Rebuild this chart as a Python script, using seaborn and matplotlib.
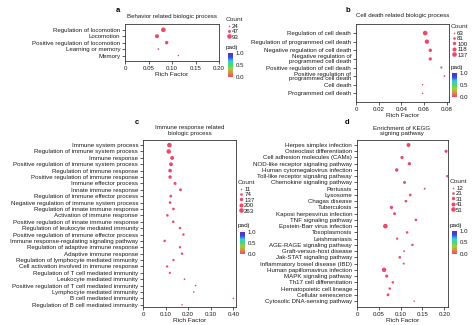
import numpy as np
import pandas as pd
import matplotlib
matplotlib.use("Agg")
import matplotlib.pyplot as plt
import seaborn as sns
from matplotlib.colors import LinearSegmentedColormap, Normalize
from matplotlib.lines import Line2D
import matplotlib.cm as cm

sns.set_theme(style="white")
plt.rcParams['font.family'] = ['Liberation Sans', 'DejaVu Sans']

# ---------------- data ----------------
a_terms = ["Regulation of locomotion", "Locomotion", "Positive regulation of locomotion",
           "Learning or memory", "Memory"]
a_rich = [0.0816, 0.068, 0.0887, 0.071, 0.1135]
a_count = [93, 75, 58, 26, 24]
a_padj = [0.0, 0.0, 0.0, 0.0, 0.0]
a_legend = [24, 47, 93]

b_terms = ["Regulation of cell death", "Regulation of programmed cell death",
           "Negative regulation of cell death", "Negative regulation of\nprogrammed cell death",
           "Positive regulation of cell death", "Positive regulation of\nprogrammed cell death",
           "Cell death", "Programmed cell death"]
b_rich = [0.061, 0.0625, 0.0655, 0.0655, 0.0753, 0.078, 0.0587, 0.0587]
b_count = [137, 128, 100, 95, 72, 66, 63, 63]
b_padj = [0.0, 0.0, 0.0, 0.0, 0.0, 0.0, 0.0, 0.0]
b_legend = [63, 81, 100, 118, 137]

c_terms = ["Immune system process", "Regulation of immune system process", "Immune response",
           "Positive regulation of immune system process", "Regulation of immune response",
           "Positive regulation of immune response", "Immune effector process",
           "Innate immune response", "Regulation of immune effector process",
           "Negative regulation of immune system process", "Regulation of innate immune response",
           "Activation of immune response", "Positive regulation of innate immune response",
           "Regulation of leukocyte mediated immunity", "Positive regulation of immune effector process",
           "Immune response-regulating signaling pathway", "Regulation of adaptive immune response",
           "Adaptive immune response", "Regulation of lymphocyte mediated immunity",
           "Cell activation involved in immune response", "Regulation of T cell mediated immunity",
           "Leukocyte mediated immunity", "Positive regulation of T cell mediated immunity",
           "Lymphocyte mediated immunity", "B cell mediated immunity",
           "Regulation of B cell mediated immunity"]
c_rich = [0.117, 0.114, 0.129, 0.124, 0.12, 0.12, 0.142, 0.166, 0.123, 0.12, 0.135, 0.108,
          0.134, 0.164, 0.179, 0.096, 0.164, 0.173, 0.135, 0.107, 0.119, 0.184, 0.233, 0.225,
          0.40, 0.173]
c_count = [263, 250, 190, 180, 160, 140, 100, 90, 80, 78, 75, 70, 68, 60, 58, 65, 55, 60, 52,
           50, 45, 20, 18, 16, 11, 12]
c_padj = [0.0, 0.0, 0.0, 0.0, 0.0, 0.0, 0.0, 0.0, 0.0, 0.0, 0.0, 0.0, 0.0,
          0.0, 0.0, 0.0, 0.0, 0.0, 0.0, 0.0, 0.0, 0.0, 0.0, 0.0, 0.0, 0.0]
c_legend = [11, 74, 137, 200, 263]

d_terms = ["Herpes simplex infection", "Osteoclast differentiation", "Cell adhesion molecules (CAMs)",
           "NOD-like receptor signaling pathway", "Human cytomegalovirus infection",
           "Toll-like receptor signaling pathway", "Chemokine signaling pathway", "Pertussis",
           "Lysosome", "Chagas disease", "Tuberculosis", "Kaposi herpesvirus infection",
           "TNF signaling pathway", "Epstein-Barr virus infection", "Toxoplasmosis", "Leishmaniasis",
           "AGE-RAGE signaling pathway", "Graft-versus-host disease", "Jak-STAT signaling pathway",
           "Inflammatory bowel disease (IBD)", "Human papillomavirus infection",
           "MAPK signaling pathway", "Th17 cell differentiation", "Hematopoietic cell lineage",
           "Cellular senescence", "Cytosolic DNA-sensing pathway"]
d_rich = [0.118, 0.204, 0.103, 0.12, 0.091, 0.207, 0.109, 0.155, 0.122, 0.112, 0.079, 0.086,
          0.135, 0.065, 0.115, 0.092, 0.127, 0.108, 0.098, 0.107, 0.062, 0.068, 0.082, 0.075,
          0.071, 0.131]
d_count = [40, 28, 28, 30, 32, 20, 25, 15, 22, 22, 30, 25, 22, 51, 20, 18, 20, 14, 22, 16, 48,
           28, 20, 20, 24, 12]
d_padj = [0.0, 0.0, 0.0, 0.0, 0.0, 0.0, 0.0, 0.0, 0.0, 0.0, 0.0, 0.0, 0.0, 0.0, 0.0, 0.0,
          0.0, 0.0, 0.0, 0.0, 0.0, 0.0, 0.0, 0.0, 0.0, 0.0]
d_legend = [12, 21, 31, 41, 51]

# ---------------- figure ----------------
W, H = 474, 325
fig = plt.figure(figsize=(W / 100, H / 100), dpi=100)
FS = 4.45
INK = "#1a1a1a"

def fx(px):
    return px / W

def fy(py):
    return 1 - py / H

cmap = LinearSegmentedColormap.from_list(
    "padj", ["#ea4a6a", "#d98a4a", "#a8cc40", "#44dc6c", "#3cc8dc", "#3048e0", "#6a2ab0"])
SMIN, SMAX = 1.2, 11.0


def size_of(v, lo, hi):
    return SMIN + (v - lo) / (hi - lo) * (SMAX - SMIN)


def panel(terms, rich, count, padj, box, xlim, xticks, xtl, pads, leg_vals,
          title, title_xy, letter, letter_xy, leg_xy, cbar_box, padj_xy):
    l, r, t, b = box
    ax = fig.add_axes([fx(l), fy(b), fx(r - l), (b - t) / H])
    df = pd.DataFrame({"term": terms, "rich": rich, "count": count, "padj": padj})
    df["pos"] = np.arange(len(df))
    lo, hi = leg_vals[0], leg_vals[-1]
    sns.scatterplot(data=df, x="rich", y="pos", hue="padj", palette=cmap,
                    hue_norm=(0, 1), size="count", sizes=(SMIN, SMAX),
                    size_norm=(lo, hi), linewidth=0, legend=False, ax=ax)
    n = len(terms)
    ax.set_ylim(n - 1 + pads[1], -pads[0])
    ax.set_yticks(np.arange(n))
    ax.set_yticklabels(terms, fontsize=FS, color=INK, linespacing=0.85)
    ax.set_xlim(*xlim)
    ax.set_xticks(xticks)
    ax.set_xticklabels(xtl, fontsize=FS, color=INK)
    ax.set_xlabel("Rich Factor", fontsize=FS + 0.2, color=INK, labelpad=1)
    ax.set_ylabel("")
    ax.tick_params(axis="both", length=2, width=0.5, pad=1.5, color=INK,
                   direction="out", bottom=True, left=True)
    for s in ax.spines.values():
        s.set_linewidth(0.6)
        s.set_color("#333333")
    fig.text(fx(title_xy[0]), fy(title_xy[1]), title, fontsize=FS, color=INK,
             ha="center", va="center", linespacing=1.0)
    fig.text(fx(letter_xy[0]), fy(letter_xy[1]), letter, fontsize=5.5, fontweight="bold",
             color="black", ha="center", va="center")
    # size legend
    handles = [Line2D([], [], linestyle="", marker="o",
                      markersize=np.sqrt(size_of(v, lo, hi)),
                      markerfacecolor=cmap(0.0), markeredgewidth=0, label=str(v))
               for v in leg_vals]
    leg = ax.legend(handles=handles, title="Count", loc="upper left",
                    bbox_to_anchor=(fx(leg_xy[0]), fy(leg_xy[1])),
                    bbox_transform=fig.transFigure, frameon=False, fontsize=FS,
                    title_fontsize=FS + 0.2, borderpad=0, borderaxespad=0,
                    handletextpad=0.1, labelspacing=0.02, handlelength=0.9,
                    markerscale=1.0)
    leg._legend_box.align = "left"
    leg._legend_box.sep = 1
    for txt in leg.get_texts():
        txt.set_color(INK)
    # colorbar
    cl, cr, ct, cb = cbar_box
    cax = fig.add_axes([fx(cl), fy(cb), fx(cr - cl), (cb - ct) / H])
    sm = cm.ScalarMappable(norm=Normalize(0, 1), cmap=cmap)
    cbar = fig.colorbar(sm, cax=cax, ticks=[0.0, 0.5, 1.0])
    cbar.ax.set_yticklabels(["0.0", "0.5", "1.0"], fontsize=FS, color=INK)
    cbar.ax.tick_params(length=1.2, width=0.4, pad=0.8, color="white")
    cbar.outline.set_visible(False)
    fig.text(fx(padj_xy[0]), fy(padj_xy[1]), "padj", fontsize=FS + 0.2, color=INK,
             ha="left", va="center")
    return ax


panel(a_terms, a_rich, a_count, a_padj, (125, 219, 24, 61), (0, 0.2),
      [0, 0.05, 0.10, 0.15, 0.20], ["0", "0.05", "0.10", "0.15", "0.20"], (0.9, 0.85),
      a_legend, "Behavior related biologic process", (172, 16.5), "a", (117.5, 10),
      (226, 17), (228, 233, 53, 77), (226, 47.5))

panel(b_terms, b_rich, b_count, b_padj, (356, 449, 24, 102), (0, 0.082),
      [0, 0.02, 0.04, 0.06, 0.08], ["0", "0.02", "0.04", "0.06", "0.08"], (1.05, 1.0),
      b_legend, "Cell death related biologic process", (402.5, 15.5), "b", (348, 10),
      (451, 24), (452, 457, 73, 97), (451, 67))

panel(c_terms, c_rich, c_count, c_padj, (143, 236, 140, 307), (0, 0.412),
      [0, 0.1, 0.2, 0.3, 0.4], ["0", "0.10", "0.20", "0.30", "0.40"], (0.8, 0.35),
      c_legend, "Immune response related\nbiologic process", (190, 130.5), "c", (136.5, 122),
      (238, 180), (240, 245, 232, 254), (238, 225.5))

panel(d_terms, d_rich, d_count, d_padj, (357, 448, 140, 307), (0, 0.2085),
      [0, 0.05, 0.10, 0.15, 0.20], ["0", "0.05", "0.10", "0.15", "0.20"], (0.8, 0.95),
      d_legend, "Enrichment of KEGG\nsigning pathway", (401.5, 130.5), "d", (347, 123),
      (450, 179), (452, 457, 231, 254), (450, 225.5))

fig.savefig("out.png", dpi=100, facecolor="white")
